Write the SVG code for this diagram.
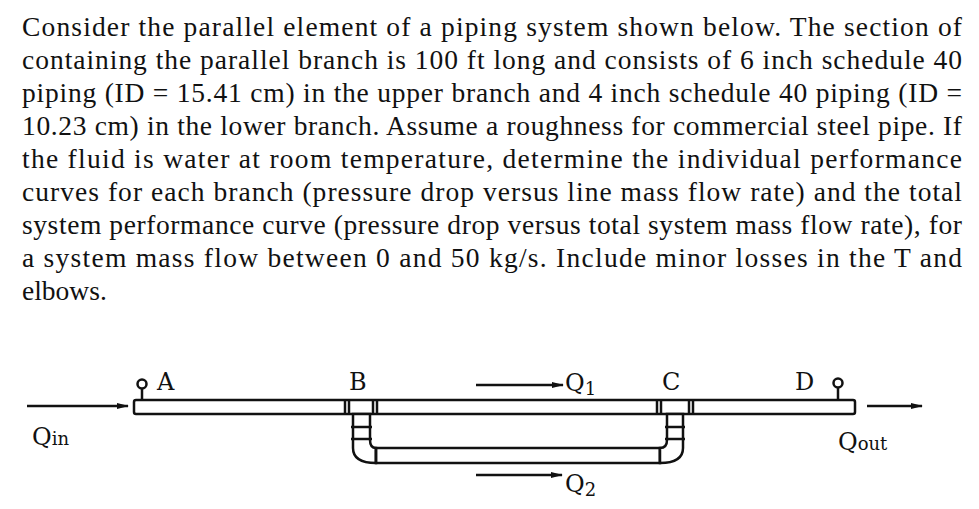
<svg xmlns="http://www.w3.org/2000/svg" width="979" height="509" viewBox="0 0 979 509">
<style>
.t{font-family:"Liberation Serif","Times New Roman",serif;font-size:27.5px;fill:#111}
.l{font-family:"DejaVu Serif",serif;font-size:24px;fill:#111}
.p{fill:#fff;stroke:#111;stroke-width:2.5}
.s{stroke:#111;stroke-width:2.5;fill:none}
.a{stroke:#111;stroke-width:2.5;fill:none;marker-end:url(#ah)}
</style>
<defs><marker id="ah" markerWidth="12" markerHeight="8" refX="11" refY="4" orient="auto" markerUnits="userSpaceOnUse"><path d="M0,1 L12,4 L0,7 Z" fill="#111"/></marker></defs>
<rect width="979" height="509" fill="#fff"/>
<g id="problem-text" class="t">
<text x="22" y="36" textLength="940" lengthAdjust="spacing">Consider the parallel element of a piping system shown below. The section of</text>
<text x="22" y="69" textLength="940" lengthAdjust="spacing">containing the parallel branch is 100 ft long and consists of 6 inch schedule 40</text>
<text x="22" y="102" textLength="940" lengthAdjust="spacing">piping (ID = 15.41 cm) in the upper branch and 4 inch schedule 40 piping (ID =</text>
<text x="22" y="135" textLength="940" lengthAdjust="spacing">10.23 cm) in the lower branch. Assume a roughness for commercial steel pipe. If</text>
<text x="22" y="168" textLength="940" lengthAdjust="spacing">the fluid is water at room temperature, determine the individual performance</text>
<text x="22" y="201" textLength="940" lengthAdjust="spacing">curves for each branch (pressure drop versus line mass flow rate) and the total</text>
<text x="22" y="234" textLength="940" lengthAdjust="spacing">system performance curve (pressure drop versus total system mass flow rate), for</text>
<text x="22" y="267" textLength="940" lengthAdjust="spacing">a system mass flow between 0 and 50 kg/s. Include minor losses in the T and</text>
<text x="22" y="300">elbows.</text>
</g>
<g id="upper-pipe">
<rect class="p" x="134" y="400" width="721" height="14" rx="2"/>
<line class="s" x1="345" y1="399" x2="345" y2="415"/><line class="s" x1="349" y1="399" x2="349" y2="415"/>
<line class="s" x1="373" y1="399" x2="373" y2="415"/><line class="s" x1="377" y1="399" x2="377" y2="415"/>
<line class="s" x1="657" y1="399" x2="657" y2="415"/><line class="s" x1="661" y1="399" x2="661" y2="415"/>
<line class="s" x1="689" y1="399" x2="689" y2="415"/><line class="s" x1="693" y1="399" x2="693" y2="415"/>
</g>
<g id="tee-B">
<path class="p" d="M353,414 L353,448 Q353,463 376,463 L376,448 Q370,448 370,440 L370,414 Z"/>
<line class="s" x1="351" y1="427" x2="372" y2="427"/><line class="s" x1="351" y1="439" x2="372" y2="439"/>
</g>
<g id="lower-pipe">
<rect class="p" x="376" y="448" width="284" height="15"/>
<line class="s" x1="376" y1="447" x2="376" y2="464"/><line class="s" x1="660" y1="447" x2="660" y2="464"/>
</g>
<g id="tee-C">
<path class="p" d="M683,414 L683,448 Q683,463 660,463 L660,448 Q667,448 667,440 L667,414 Z"/>
<line class="s" x1="665" y1="427" x2="685" y2="427"/><line class="s" x1="665" y1="439" x2="685" y2="439"/>
</g>
<g id="point-A"><circle class="p" cx="142" cy="384" r="4.5"/><line class="s" x1="142" y1="389" x2="142" y2="400"/><text class="l" x="157" y="390">A</text></g>
<g id="point-B"><text class="l" x="349" y="390">B</text></g>
<g id="point-C"><text class="l" x="662" y="390">C</text></g>
<g id="point-D"><circle class="p" cx="838" cy="383" r="4.5"/><line class="s" x1="838" y1="388" x2="838" y2="400"/><text class="l" x="795" y="390">D</text></g>
<g id="connectors">
<line class="a" x1="27" y1="406" x2="128" y2="406"/>
<line class="a" x1="867" y1="406" x2="922" y2="406"/>
<line class="a" x1="476" y1="385" x2="563" y2="385"/>
<line class="a" x1="476" y1="475" x2="562" y2="475"/>
</g>
<g id="labels" class="l">
<text x="32" y="445">Q<tspan font-size="18">in</tspan></text>
<text x="838" y="450">Q<tspan font-size="18">out</tspan></text>
<text x="565" y="391">Q<tspan font-size="18" dy="4">1</tspan></text>
<text x="565" y="492">Q<tspan font-size="18" dy="4">2</tspan></text>
</g>
</svg>
